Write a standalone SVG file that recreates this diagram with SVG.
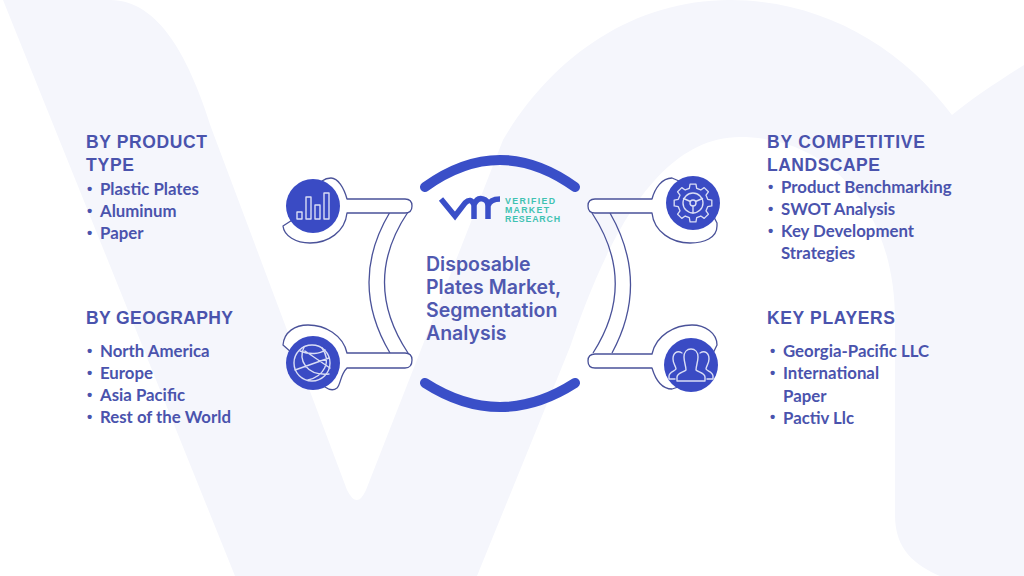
<svg xmlns="http://www.w3.org/2000/svg" width="1024" height="576" viewBox="0 0 1024 576">
<style>
.h{font-family:"Liberation Sans",Arial,sans-serif;font-size:17.5px;font-weight:700;fill:#4a53ad}
.b{font-family:Lato,"Liberation Sans",sans-serif;font-size:16.8px;font-weight:700;fill:#4a53ad}
.u{font-family:"Liberation Sans",Arial,sans-serif;font-size:15px;font-weight:700;fill:#4a53ad}
.c{font-family:Inter,"Liberation Sans",sans-serif;font-size:19.5px;font-weight:600;fill:#5059b0}
.t{font-family:"Liberation Sans",Arial,sans-serif;font-size:8.8px;fill:#3fc2b2;font-weight:700}
.o{fill:#fff;stroke:#4a5299;stroke-width:1.3;stroke-linejoin:round}
.l{fill:none;stroke:#4a5299;stroke-width:1.3}
.d{fill:#3a4bc4}
.i{fill:none;stroke:#d9ddf5;stroke-width:1.4;stroke-linejoin:round;stroke-linecap:round}
.a{fill:none;stroke:#3a4fc8;stroke-width:10;stroke-linecap:round}
</style>
<rect width="1024" height="576" fill="#fff"/>
<g id="watermark" fill="#f5f6fc">
<path d="M3,0 L235,576 L477,576 L570,347 C600,260 650,137 740,137 C830,137 895,210 895,320 L895,515 C895,550 915,565 940,576 L1024,576 L1024,65 C1000,80 970,100 952,115 C900,45 820,0 730,0 C630,0 550,60 503,140 L366,490 Q357,510 347,490 L212,130 C190,60 160,0 110,0 Z"/>
</g>
<g id="connectors">
<path class="l" d="M390,212 Q348,282 390,353"/>
<path class="l" d="M408,212 Q361,282 408,353"/>
<path class="l" d="M592,213 Q638,283 593,353"/>
<path class="l" d="M610,213 Q650,283 612,353"/>
</g>
<g id="arc-top"><path class="a" d="M425,187 Q500,133 575,187"/></g>
<g id="arc-bottom"><path class="a" d="M425,383 Q500,431 575,383"/></g>
<g id="logo">
<path d="M441,199 L455,216 L465,203 Q471,197 474,205 L474,219 M474,205 Q477,197 483,199 Q488,200 488,206 L488,219 M488,206 Q490,199 500,199" fill="none" stroke="#3a4fc8" stroke-width="5.5"/>
<text class="t" x="505" y="203.500" textLength="50">VERIFIED</text>
<text class="t" x="505" y="212.500" textLength="44">MARKET</text>
<text class="t" x="505" y="221.500" textLength="55">RESEARCH</text>
</g>
<g id="node-product">
<path class="o" d="M412,206 Q412,199 405,199 L347,199 C344,188 338,178 331,178 Q326,178 322,181 L300,215 L283,226 C284,236 296,243 310,243 C328,243 345,232 347,213 L405,213 Q412,213 412,206 Z"/>
<circle class="d" cx="313" cy="206" r="27"/>
<path class="i" d="M297,212h5v7h-5zM306,197h5v22h-5zM315,205h5v14h-5zM324,193h5v26h-5z"/>
</g>
<g id="node-geography">
<path class="o" d="M412,360 Q412,353 405,353 L347,353 C343,335 325,325 308,325 C295,325 284,332 283,345 L300,360 L325,387 Q332,392 337,388 C341,384 340,375 347,368 L405,368 Q412,368 412,360 Z"/>
<circle class="d" cx="313" cy="363" r="27"/>
<g class="i"><circle cx="312" cy="363" r="18"/><path d="M304,347 C298,360 306,376 329,374M322,348 C332,362 324,376 308,380M295,370 L329,358M305,351 L330,368M300,351 C310,355 320,354 325,350"/></g>
</g>
<g id="node-competitive">
<path class="o" d="M588,206 Q588,199 595,199 L652,199 C655,188 662,178 672,178 L700,190 L717,223 L717,226 C717,238 704,243 690,243 C672,243 654,232 652,213 L595,213 Q588,213 588,206 Z"/>
<circle class="d" cx="693" cy="203" r="27"/>
<g class="i"><circle cx="693" cy="203" r="10"/><circle cx="693" cy="203" r="3"/><path d="M693,206v7M690.500,201.500l-7,-3M695.500,201.500l7,-3"/>
<polygon transform="translate(693,203) scale(.95)" points="15.5,-3.900 19.800,-3.100 19.800,3.100 15.500,3.900 13.700,8.200 16.200,11.800 11.800,16.200 8.200,13.700 3.900,15.500 3.100,19.800 -3.100,19.800 -3.900,15.500 -8.200,13.700 -11.800,16.200 -16.200,11.800 -13.700,8.200 -15.500,3.900 -19.800,3.100 -19.800,-3.100 -15.500,-3.900 -13.700,-8.200 -16.200,-11.800 -11.800,-16.200 -8.200,-13.700 -3.900,-15.500 -3.100,-19.800 3.100,-19.800 3.900,-15.500 8.200,-13.700 11.800,-16.200 16.200,-11.800 13.700,-8.200"/></g>
</g>
<g id="node-players">
<path class="o" d="M588,361 Q588,354 595,354 L652,354 C656,335 675,325 692,325 C705,325 717,333 717,345 L700,380 L672,389 C660,389 655,378 652,368 L595,368 Q588,368 588,361 Z"/>
<circle class="d" cx="691" cy="365" r="27"/>
<g class="i"><path d="M677,381 L705,381 L705,377 C705,373 698,372 696,370 C696,366 698,362 698,357 C698,352 695,349 691,349 C687,349 684,352 684,357 C684,362 686,366 686,370 C684,372 677,373 677,377 Z"/><path d="M682,353 C677,350 673,353 673,359 C673,364 676,366 676,369 C675,371 669,372 669,376 L669,379 L675,379M700,353 C705,350 709,353 709,359 C709,364 706,366 706,369 C707,371 713,372 713,376 L713,379 L707,379"/></g>
</g>
<g id="text-product">
<text class="h" x="86" y="148" textLength="121">BY PRODUCT</text><text class="h" x="86" y="171" textLength="48">TYPE</text>
<text class="u" x="87" y="193.500">•</text><text class="b" x="100" y="195">Plastic Plates</text>
<text class="u" x="87" y="215.500">•</text><text class="b" x="100" y="217">Aluminum</text>
<text class="u" x="87" y="237.500">•</text><text class="b" x="100" y="239">Paper</text>
</g>
<g id="text-geography">
<text class="h" x="86" y="324" textLength="147">BY GEOGRAPHY</text>
<text class="u" x="87" y="355.500">•</text><text class="b" x="100" y="357">North America</text>
<text class="u" x="87" y="377.500">•</text><text class="b" x="100" y="379">Europe</text>
<text class="u" x="87" y="399.500">•</text><text class="b" x="100" y="401">Asia Pacific</text>
<text class="u" x="87" y="421.500">•</text><text class="b" x="100" y="423">Rest of the World</text>
</g>
<g id="text-center">
<text class="c" x="426" y="271">Disposable</text><text class="c" x="426" y="294">Plates Market,</text><text class="c" x="426" y="317">Segmentation</text><text class="c" x="426" y="340">Analysis</text>
</g>
<g id="text-competitive">
<text class="h" x="767" y="148" textLength="158">BY COMPETITIVE</text><text class="h" x="767" y="171" textLength="113">LANDSCAPE</text>
<text class="u" x="768" y="191.500">•</text><text class="b" x="781" y="193">Product Benchmarking</text>
<text class="u" x="768" y="213.500">•</text><text class="b" x="781" y="215">SWOT Analysis</text>
<text class="u" x="768" y="235.500">•</text><text class="b" x="781" y="237">Key Development</text>
<text class="b" x="781" y="259">Strategies</text>
</g>
<g id="text-players">
<text class="h" x="767" y="324" textLength="128">KEY PLAYERS</text>
<text class="u" x="770" y="355.500">•</text><text class="b" x="783" y="357">Georgia-Pacific LLC</text>
<text class="u" x="770" y="377.500">•</text><text class="b" x="783" y="379">International</text>
<text class="b" x="783" y="402">Paper</text>
<text class="u" x="770" y="422">•</text><text class="b" x="783" y="423.500">Pactiv Llc</text>
</g>
</svg>
